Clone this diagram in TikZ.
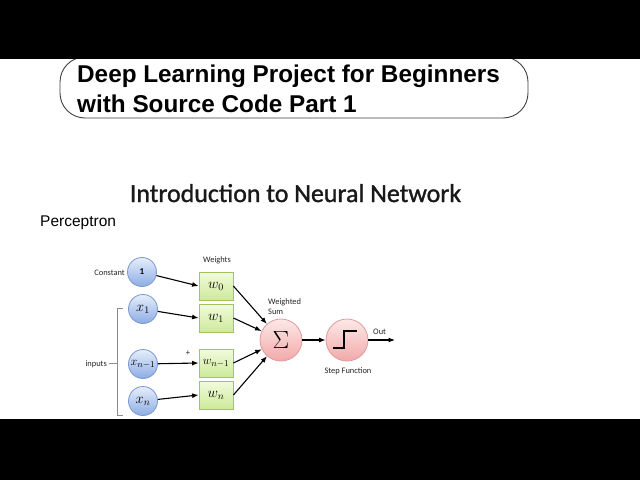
\documentclass[tikz,border=0pt]{standalone}
\usepackage{fontspec}
\setmainfont{Liberation Sans}
\newfontfamily\calfont{Carlito}
\newfontfamily\calfontb[FakeBold=1.2]{Carlito}
\usetikzlibrary{arrows.meta}
\definecolor{bluetop}{HTML}{E6EEFB}
\definecolor{bluebot}{HTML}{8CACE4}
\definecolor{blueline}{HTML}{7B98CF}
\definecolor{greentop}{HTML}{F2FBDD}
\definecolor{greenbot}{HTML}{CDEA98}
\definecolor{greenline}{HTML}{A2C35E}
\definecolor{pinktop}{HTML}{FDE8E8}
\definecolor{pinkbot}{HTML}{F2A9A9}
\definecolor{pinkline}{HTML}{E09B9B}
\tikzset{
  inp/.style={circle, minimum size=29pt, inner sep=0pt, draw=blueline, line width=0.8pt, top color=bluetop, bottom color=bluebot},
  wbox/.style={rectangle, minimum width=34pt, minimum height=28pt, inner sep=0pt, draw=greenline, line width=0.8pt, top color=greentop, bottom color=greenbot},
  neuron/.style={circle, minimum size=42pt, inner sep=0pt, draw=pinkline, line width=0.8pt, top color=pinktop, bottom color=pinkbot},
  lbl/.style={font=\calfont\fontsize{8.4}{10}\selectfont, text=black!85, inner sep=0pt},
  conn/.style={line width=1.1pt, -{Latex[length=6.5pt,width=5pt]}},
  mathlbl/.style={font=\fontsize{14}{14}\selectfont},
  mathsm/.style={font=\fontsize{12.5}{12.5}\selectfont}
}
\begin{document}
\begin{tikzpicture}[x=1pt,y=-1pt]
\useasboundingbox (0,0) rectangle (640,480);
\fill[white] (0,0) rectangle (640,480);
% title box
\draw[black!75, line width=0.9pt, rounded corners=25pt] (60,57) rectangle (528,118);
\node[anchor=base west, inner sep=0pt, font=\bfseries\fontsize{24.3}{28}\selectfont] (t1) at (77,82) {Deep Learning Project for Beginners};
\node[anchor=base west, inner sep=0pt, font=\bfseries\fontsize{24.3}{28}\selectfont] (t2) at (77,112) {with Source Code Part 1};
% heading
\node[anchor=base, inner sep=0pt, text=black!90, font=\calfontb\fontsize{25.9}{30}\selectfont] (intro) at (295.5,202) {Introduction to Neural Network};
\node[anchor=base west, inner sep=0pt, font=\fontsize{15.5}{18}\selectfont] (perc) at (40,226) {Perceptron};
% input nodes
\node[inp] (c1) at (142,272) {\calfont\fontsize{9}{9}\selectfont\bfseries 1};
\node[inp, mathlbl] (x1) at (143,309) {$x_1$};
\node[inp, mathsm] (xn1) at (143,364) {$x_{n-1}$};
\node[inp, mathlbl] (xn) at (143,401) {$x_n$};
% weights
\node[wbox, mathlbl] (w0) at (216,286) {$w_0$};
\node[wbox, mathlbl] (w1) at (216,318) {$w_1$};
\node[wbox, mathsm] (wn1) at (216,363) {$w_{n-1}$};
\node[wbox, mathlbl] (wn) at (216,395) {$w_n$};
% neurons
\node[neuron] (sum) at (281,340) {\fontsize{25}{25}\selectfont$\Sigma$};
\node[neuron] (step) at (347,340) {};
\draw[line width=2.4pt, black] ([shift={(-14,8)}]step.center) -- ([shift={(-3,8)}]step.center) -- ([shift={(-3,-9)}]step.center) -- ([shift={(10,-9)}]step.center);
\coordinate (out) at (395,340);
% labels
\node[lbl, anchor=base] (lw) at (217,262) {Weights};
\node[lbl, anchor=base east] (lc) at (125,275) {Constant};
\node[lbl, anchor=base west] (lws) at (268,304) {Weighted};
\node[lbl, anchor=base west] (lsum) at (268,314) {Sum};
\node[lbl, anchor=base west] (lout) at (373,334) {Out};
\node[lbl, anchor=base] (lsf) at (348,373) {Step Function};
\node[lbl, anchor=base east] (lin) at (107,366) {inputs};
\node[lbl, anchor=center] (plus) at (188,353) {+};
% bracket
\coordinate (bt) at (117,308);
\coordinate (bb) at (117,415);
\draw[black!45, line width=0.7pt] (123,308) -- (bt) -- (bb) -- (123,415);
\draw[black!45, line width=0.7pt] (lin.east |- 0,363) ++(2,0) -- (117,363);
% connectors
\draw[conn] (c1) -- (w0.west);
\draw[conn] (x1) -- (w1.west);
\draw[conn] (xn1) -- (wn1.west);
\draw[conn] (xn) -- (wn.west);
\draw[conn] (w0.east) -- (sum);
\draw[conn] (w1.east) -- (sum);
\draw[conn] (wn1.east) -- (sum);
\draw[conn] (wn.east) -- (sum);
\draw[conn] (sum) -- (step);
\draw[conn] (step) -- (out);
% black bars
\fill[black] (0,0) rectangle (640,59);
\fill[black] (0,419) rectangle (640,480);
\end{tikzpicture}
\end{document}
